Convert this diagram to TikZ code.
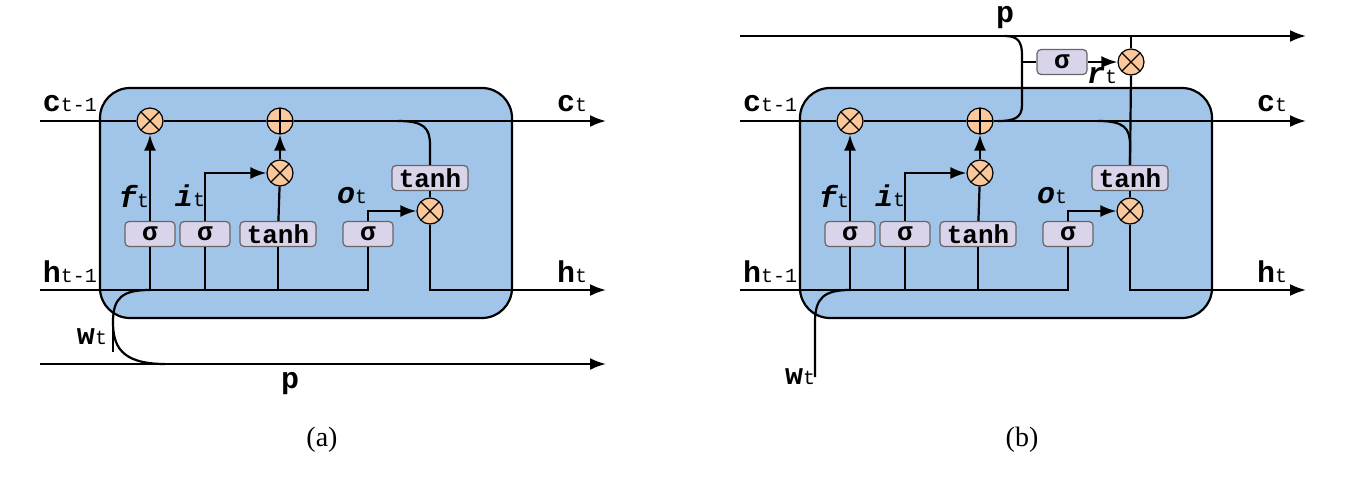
\documentclass[tikz,border=0pt]{standalone}
\usepackage{fontspec}
\setmainfont{Liberation Serif}
\newfontfamily\mono{Liberation Mono}
\usetikzlibrary{arrows.meta}
\definecolor{cellblue}{RGB}{160,197,232}
\definecolor{opfill}{RGB}{250,200,155}
\definecolor{gatefill}{RGB}{218,212,235}
\newcommand\lbl[2]{{\mono\bfseries\fontsize{15}{15}\selectfont #1}{\mono\fontsize{10}{10}\selectfont #2}}
\newcommand\glbl[2]{{\mono\bfseries\itshape\fontsize{15}{15}\selectfont #1}{\mono\fontsize{10}{10}\selectfont #2}}
\tikzset{
  ln/.style={line width=1.1pt},
  arr/.style={ln,-{Latex[length=8pt,width=6pt]}},
  cell/.style={draw,line width=1.1pt,fill=cellblue,rounded corners=15pt},
  op/.style={circle,draw,line width=0.6pt,fill=opfill,minimum size=13pt,inner sep=0pt},
  mul/.style={op,path picture={\draw[line width=0.6pt] ([shift={(45:7pt)}]path picture bounding box.center)--([shift={(225:7pt)}]path picture bounding box.center) ([shift={(135:7pt)}]path picture bounding box.center)--([shift={(-45:7pt)}]path picture bounding box.center);}},
  add/.style={op,path picture={\draw[line width=0.6pt] (path picture bounding box.north)--(path picture bounding box.south) (path picture bounding box.west)--(path picture bounding box.east);}},
  gate/.style={draw=black!60,line width=0.6pt,fill=gatefill,rounded corners=2pt,minimum height=12.5pt,inner sep=1pt,font=\mono\bfseries\fontsize{13}{13}\selectfont},
  txt/.style={inner sep=0pt}
}
\newcommand\panel[1]{%
  \draw[cell] (100,88) rectangle (512,318);
  \node[mul] (#1fx) at (150,121) {};
  \node[add] (#1pl) at (280,121) {};
  \node[mul] (#1ix) at (280,173) {};
  \node[mul] (#1ox) at (430,211) {};
  \node[gate,minimum width=38pt] (#1th) at (430,178) {tanh};
  \node[gate,minimum width=25pt] (#1sf) at (150,234) {σ};
  \node[gate,minimum width=25pt] (#1si) at (205,234) {σ};
  \node[gate,minimum width=38pt] (#1tg) at (278,234) {tanh};
  \node[gate,minimum width=25pt] (#1so) at (368,234) {σ};
  \coordinate (#1cin) at (40,121); \coordinate (#1cout) at (606,121);
  \coordinate (#1hin) at (40,290); \coordinate (#1hout) at (606,290);
  \coordinate (#1cb) at (398,121);
  \draw[arr] (#1cin) -- (#1fx) -- (#1pl) -- (#1cout);
  \draw[arr] (#1sf) -- (#1fx);
  \draw[ln] (#1tg) -- (#1ix);
  \draw[arr] (#1ix) -- (#1pl);
  \draw[arr] (#1si.north) |- (#1ix);
  \draw[arr] (#1so.north) |- (#1ox);
  \draw[ln] (#1cb) .. controls (424,121) and (430,128) .. (430,145) -- (#1th.north);
  \draw[ln] (#1th) -- (#1ox);
  \draw[arr] (#1ox) |- (#1hout);
  \draw[ln] (#1hin) -| (#1so.south);
  \draw[ln] (#1sf.south) -- (#1sf.south |- #1hin);
  \draw[ln] (#1si.south) -- (#1si.south |- #1hin);
  \draw[ln] (#1tg.south) -- (#1tg.south |- #1hin);
  \node[txt] (#1lc0) at (70,104) {\lbl{c}{t-1}};
  \node[txt] (#1lc1) at (572,104) {\lbl{c}{t}};
  \node[txt] (#1lh0) at (70,272) {\lbl{h}{t-1}};
  \node[txt] (#1lh1) at (572,272) {\lbl{h}{t}};
  \node[txt] (#1lf) at (134,196) {\glbl{f}{t}};
  \node[txt] (#1li) at (190,196) {\glbl{i}{t}};
  \node[txt] (#1lo) at (352,196) {\glbl{o}{t}};
}
\begin{document}
\begin{tikzpicture}[x=0.5pt,y=-0.5pt]
\useasboundingbox (0,0) rectangle (1350,488);
\panel{a}
\coordinate (apin) at (40,364); \coordinate (apout) at (606,364);
\coordinate (aw) at (113,352);
\draw[arr] (apin) -- (apout);
\draw[ln] (165,364) .. controls (120,364) and (113,345) .. (113,322) .. controls (113,298) and (122,290) .. (150,290);
\draw[ln] (aw) -- (113,322);
\node[txt] (alw) at (92,337) {\lbl{w}{t}};
\node[txt] (alp) at (290,384) {\lbl{p}{}};
\node[txt] (capa) at (322,440) {\fontsize{14}{14}\selectfont (a)};
\begin{scope}[shift={(700,0)}]
\panel{b}
\coordinate (bpin) at (40,36); \coordinate (bpout) at (606,36);
\draw[arr] (bpin) -- (bpout);
\node[gate,minimum width=25pt] (bsr) at (362,62) {σ};
\node[mul] (brx) at (431,62) {};
\draw[ln] (305,36) .. controls (318,36) and (322,42) .. (322,55) -- (322,105) .. controls (322,118) and (314,121) .. (298,121);
\draw[ln] (322,62) -- (bsr.west);
\draw[arr] (bsr) -- (brx);
\draw[ln] (431,36) -- (brx.north);
\draw[ln] (brx.south) -- (bth.north);
\node[txt] (blr) at (402,76) {\glbl{r}{t}};
\draw[ln] (115,377) -- (115,322) .. controls (115,298) and (124,290) .. (150,290);
\node[txt] (blw) at (100,377) {\lbl{w}{t}};
\node[txt] (blp) at (305,18) {\lbl{p}{}};
\node[txt] (capb) at (322,440) {\fontsize{14}{14}\selectfont (b)};
\end{scope}
\end{tikzpicture}
\end{document}
